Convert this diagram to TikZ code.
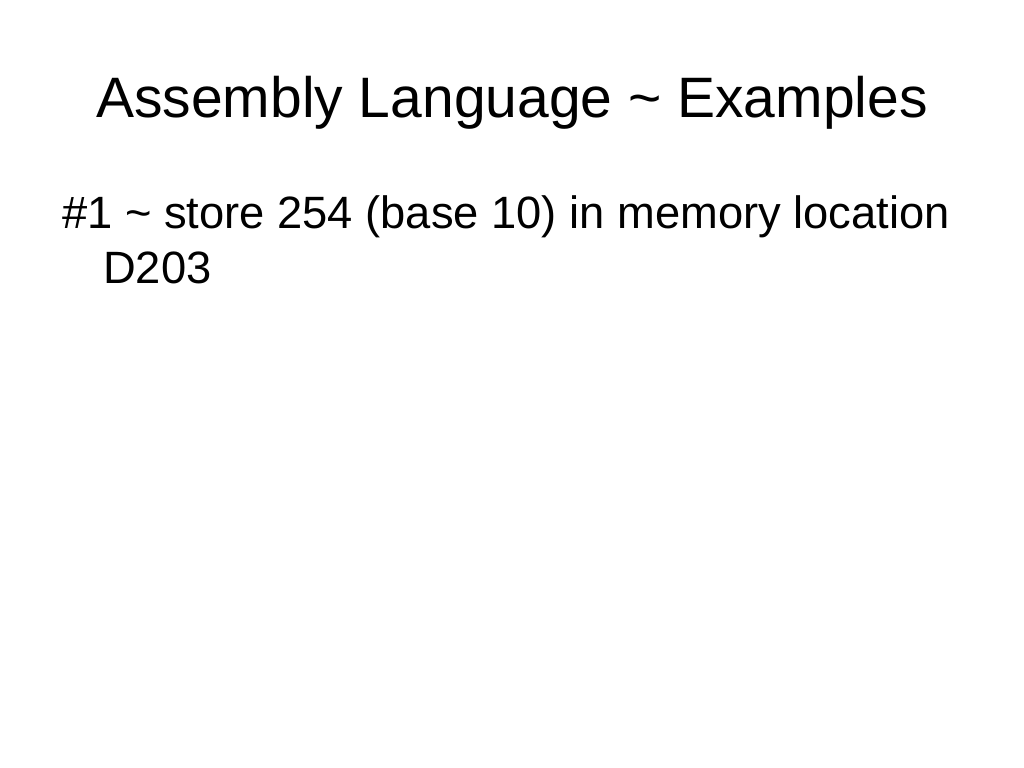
\documentclass[tikz,border=0pt]{standalone}
\usepackage{fontspec}
\setmainfont{Liberation Sans}
\begin{document}
\begin{tikzpicture}[x=1bp,y=-1bp,
  title/.style={anchor=base,inner sep=0pt,font=\fontsize{57bp}{68bp}\selectfont},
  body/.style={anchor=base west,inner sep=0pt,font=\fontsize{45.3bp}{54bp}\selectfont}]
\useasboundingbox[fill=white] (0,0) rectangle (1024,768);
\node[title] (t) at (512,117) {Assembly Language \textasciitilde{} Examples};
\node[body] (b1) at (62,228) {\#1 \textasciitilde{} store 254 (base 10) in memory location};
\node[body] (b2) at (103,283) {D203};
\end{tikzpicture}
\end{document}
